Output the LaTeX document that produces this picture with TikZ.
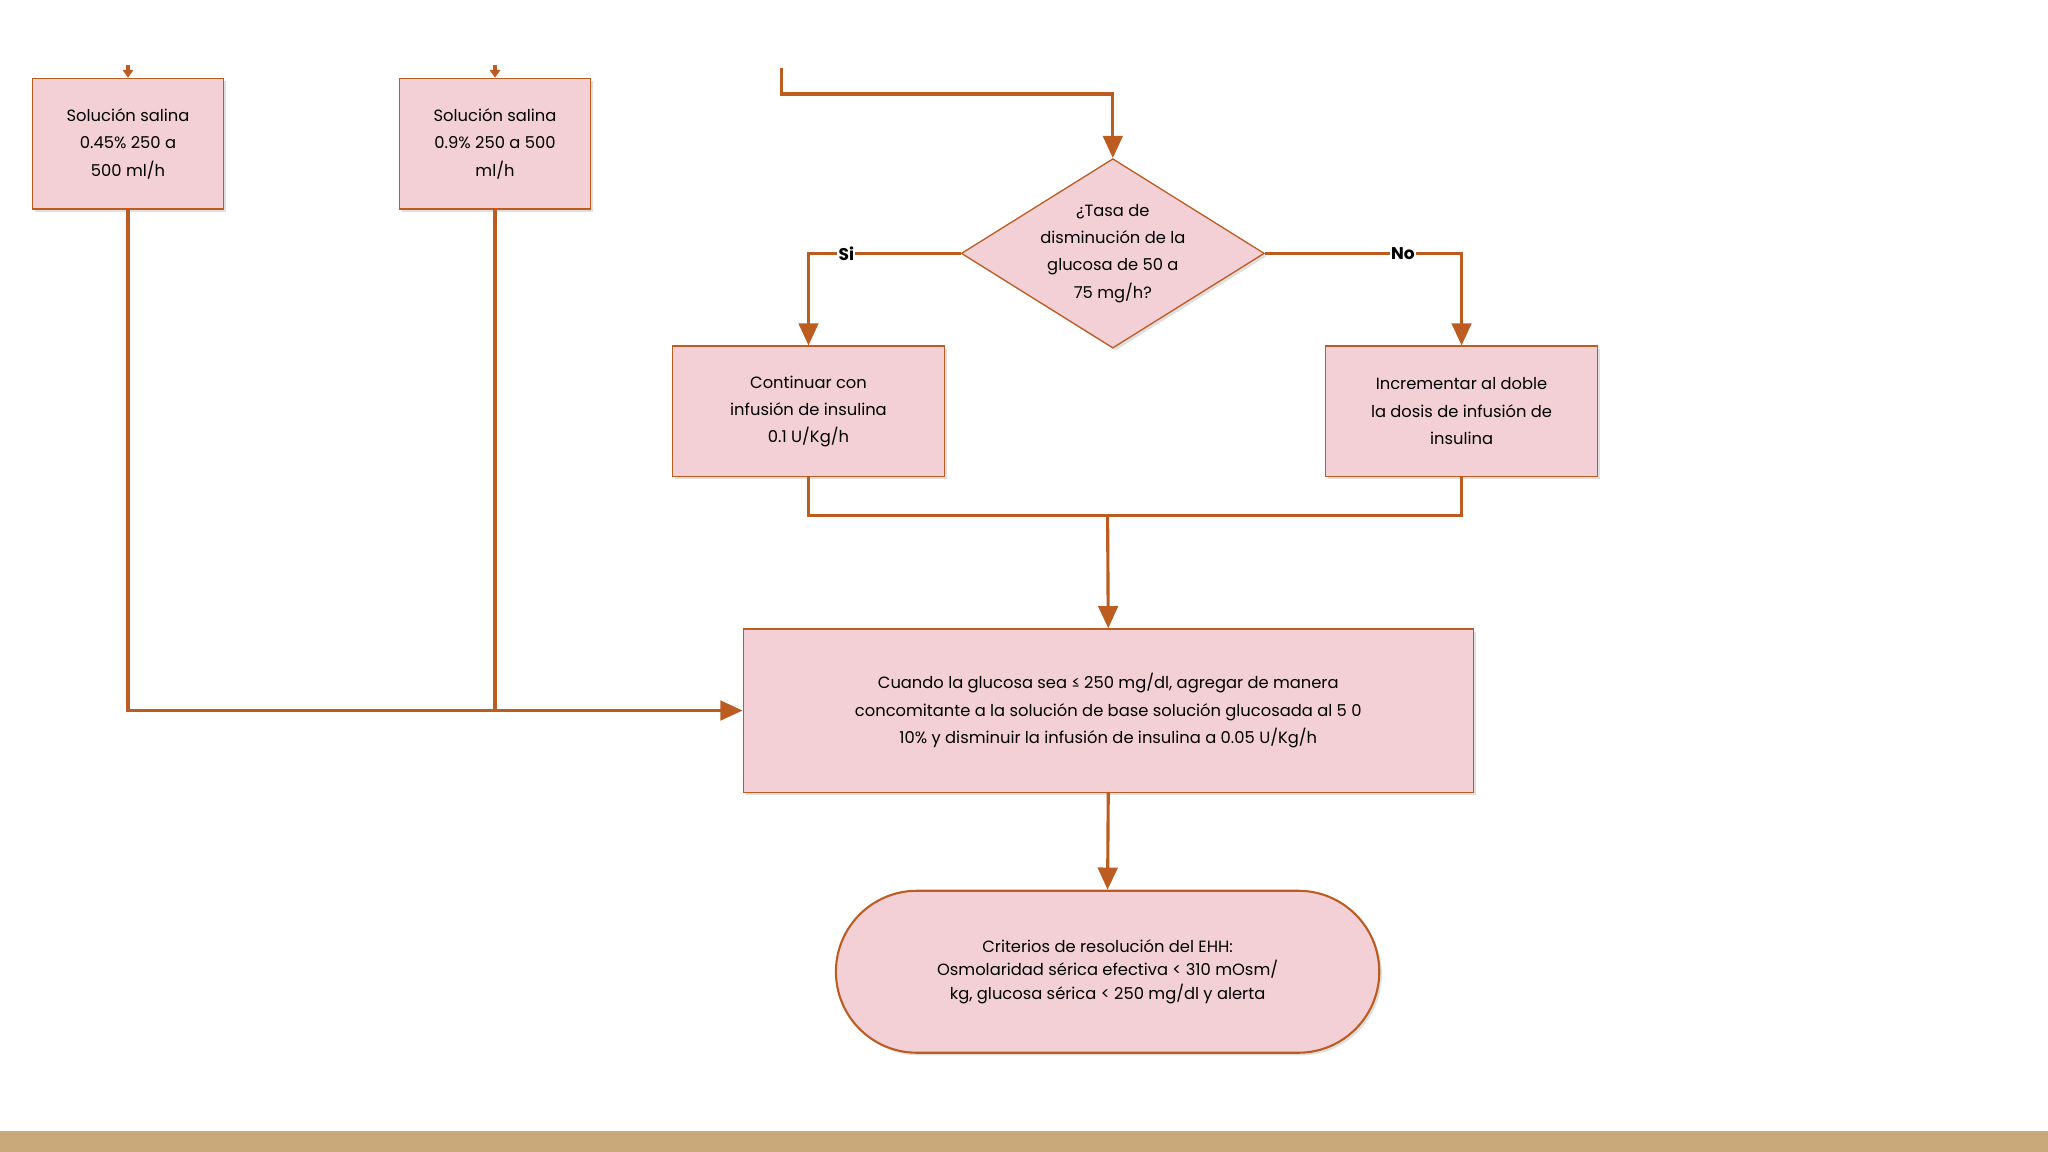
\documentclass[tikz,border=0pt]{standalone}
\usepackage{fontspec}
\setmainfont{Poppins}
\usetikzlibrary{shapes.geometric,arrows.meta,shadows}
\definecolor{ln}{RGB}{188,92,32}
\definecolor{fl}{RGB}{242,208,213}
\definecolor{band}{RGB}{201,168,122}
\begin{document}
\begin{tikzpicture}[x=1pt,y=-1pt,
 box/.style={draw=ln,fill=fl,line width=1pt,align=center,inner sep=2pt,font=\fontsize{12.5}{21}\selectfont,drop shadow={shadow xshift=2pt,shadow yshift=-2pt,opacity=0.25}},
 con/.style={draw=ln,line width=2.4pt},
 arr/.style={con,-{Triangle[length=17pt,width=15pt]}}]
\useasboundingbox (0,0) rectangle (1568,882);
\fill[band] (0,866) rectangle (1568,882);
\node[box,minimum width=146pt,minimum height=100pt] (b1) at (98,110) {Solución salina\\0.45\% 250 a\\500 ml/h};
\node[box,minimum width=146pt,minimum height=100pt] (b2) at (379,110) {Solución salina\\0.9\% 250 a 500\\ml/h};
\coordinate (t1) at (98,50); \coordinate (t2) at (379,50);
\draw[arr,-{Triangle[length=6pt,width=8pt]}] (t1) -- (b1.north);
\draw[arr,-{Triangle[length=6pt,width=8pt]}] (t2) -- (b2.north);
\node[box,diamond,aspect=1.6,minimum width=208pt,minimum height=132pt,inner sep=0pt] (d) at (852,194) {¿Tasa de\\disminución de la\\glucosa de 50 a\\75 mg/h?};
\coordinate (s) at (598,52);
\draw[arr] (s) -- (598,72) -- (852,72) -- (d.north);
\node[box,minimum width=208pt,minimum height=100pt] (b3) at (619,315) {Continuar con\\infusión de insulina\\0.1 U/Kg/h};
\node[box,minimum width=208pt,minimum height=100pt] (b4) at (1119,315) {Incrementar al doble\\la dosis de infusión de\\insulina};
\draw[arr] (d.west) -- (619,194) -- (b3.north);
\draw[arr] (d.east) -- (1119,194) -- (b4.north);
\node[fill=white,inner sep=1pt,font=\bfseries\fontsize{13}{15}\selectfont] at (648,194) {Si};
\node[fill=white,inner sep=1pt,font=\bfseries\fontsize{13}{15}\selectfont] at (1074,194) {No};
\node[box,minimum width=559pt,minimum height=125pt] (b5) at (848.5,544) {Cuando la glucosa sea ≤ 250 mg/dl, agregar de manera\\concomitante a la solución de base solución glucosada al 5 0\\10\% y disminuir la infusión de insulina a 0.05 U/Kg/h};
\draw[con] (b3.south) -- (619,395) -- (1119,395) -- (b4.south);
\coordinate (m) at (848,395);
\draw[arr] (m) -- (b5.north);
\draw[arr] (b1.south) -- (98,544) -- (b5.west);
\draw[con] (b2.south) -- (379,544);
\node[box,rounded corners=62pt,minimum width=416pt,minimum height=124pt,line width=1.6pt] (e) at (848,744) {Criterios de resolución del EHH:\\[-3pt]Osmolaridad sérica efectiva < 310 mOsm/\\[-3pt]kg, glucosa sérica < 250 mg/dl y alerta};
\draw[arr] (b5.south) -- (e.north);
\end{tikzpicture}
\end{document}
